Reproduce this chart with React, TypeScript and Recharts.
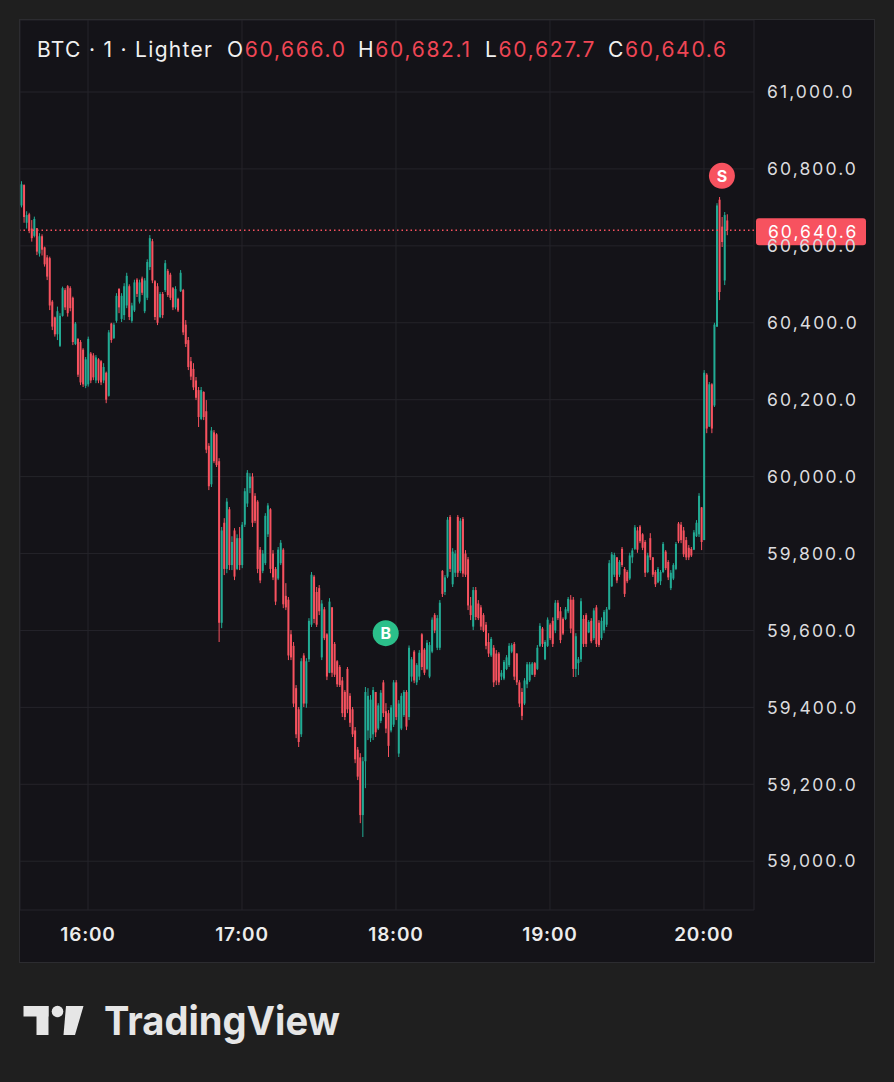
import React from 'react';
import {
  ComposedChart,
  Bar,
  XAxis,
  YAxis,
  CartesianGrid,
  ReferenceLine,
  ReferenceDot,
} from 'recharts';

// ---- data ----
const startTime = '15:34';
const slotCount = 286; // visible one-minute slots (15:34 .. 20:19)

const opens = [
  60705, 60758, 60660, 60682, 60645, 60626, 60646, 60580, 60625, 60596,
  60570, 60568, 60455, 60414, 60370, 60340, 60418, 60485, 60495, 60490,
  60465, 60345, 60358, 60350, 60330, 60236, 60240, 60320, 60315, 60250,
  60305, 60300, 60250, 60270, 60210, 60398, 60360, 60405, 60488, 60410,
  60420, 60445, 60495, 60405, 60432, 60512, 60455, 60515, 60430, 60465,
  60545, 60612, 60508, 60495, 60415, 60475, 60485, 60535, 60525, 60490,
  60440, 60462, 60482, 60485, 60395, 60355, 60300, 60280, 60250, 60225,
  60150, 60220, 60170, 60080, 59980, 60115, 60110, 60040, 59620, 59880,
  59760, 59915, 59770, 59860, 59760, 59840, 59770, 59875, 59930, 59970,
  60000, 59950, 59935, 59810, 59755, 59775, 59850, 59915, 59800, 59760,
  59735, 59775, 59810, 59690, 59680, 59590, 59560, 59450, 59395, 59330,
  59535, 59410, 59525, 59615, 59740, 59700, 59710, 59530, 59655, 59590,
  59490, 59660, 59565, 59520, 59505, 59470, 59440, 59500, 59430, 59395,
  59340, 59290, 59270, 59120, 59260, 59340, 59320, 59330, 59440, 59345,
  59365, 59465, 59390, 59385, 59340, 59355, 59465, 59280, 59345, 59380,
  59440, 59375, 59480, 59545, 59465, 59480, 59590, 59550, 59500, 59480,
  59545, 59640, 59555, 59555, 59755, 59700, 59740, 59895, 59720, 59750,
  59895, 59755, 59890, 59800, 59785, 59665, 59610, 59705, 59670, 59660,
  59640, 59615, 59570, 59535, 59555, 59540, 59540, 59480, 59475, 59500,
  59510, 59545, 59565, 59540, 59465, 59440, 59410, 59460, 59470, 59485,
  59515, 59500, 59560, 59605, 59525, 59560, 59615, 59625, 59600, 59672,
  59650, 59630, 59630, 59650, 59680, 59680, 59500, 59515, 59525, 59630,
  59640, 59595, 59625, 59580, 59660, 59620, 59580, 59600, 59615, 59655,
  59715, 59745, 59790, 59745, 59812, 59760, 59752, 59735, 59790, 59812,
  59860, 59870, 59850, 59830, 59752, 59840, 59790, 59752, 59725, 59728,
  59752, 59805, 59778, 59710, 59735, 59760, 59878, 59875, 59860, 59835,
  59815, 59812, 59810, 59845, 59850, 59920, 59835, 60265, 60130, 60240,
  60185, 60390, 60720, 60650, 60510, 60666.0,
];

const highs = [
  60768, 60760, 60690, 60686, 60667, 60676, 60646, 60633, 60630, 60598,
  60576, 60572, 60459, 60416, 60442, 60425, 60494, 60490, 60498, 60495,
  60468, 60402, 60360, 60355, 60334, 60311, 60364, 60324, 60321, 60316,
  60308, 60303, 60295, 60273, 60381, 60400, 60400, 60477, 60490, 60477,
  60503, 60530, 60500, 60452, 60512, 60516, 60512, 60520, 60516, 60565,
  60628, 60618, 60511, 60503, 60480, 60480, 60563, 60540, 60530, 60493,
  60495, 60465, 60537, 60488, 60407, 60363, 60311, 60295, 60259, 60233,
  60233, 60222, 60199, 60087, 60129, 60121, 60113, 60048, 59869, 59892,
  59944, 59921, 59845, 59866, 59850, 59869, 59882, 59970, 60017, 60009,
  60009, 59957, 59939, 59817, 59809, 59905, 59931, 59918, 59809, 59765,
  59817, 59835, 59814, 59723, 59687, 59601, 59570, 59458, 59401, 59528,
  59541, 59528, 59632, 59752, 59744, 59713, 59718, 59679, 59661, 59593,
  59684, 59661, 59570, 59523, 59510, 59479, 59445, 59505, 59437, 59401,
  59349, 59297, 59281, 59271, 59453, 59450, 59432, 59453, 59440, 59411,
  59445, 59471, 59411, 59393, 59406, 59471, 59471, 59419, 59437, 59445,
  59445, 59561, 59531, 59549, 59515, 59549, 59593, 59554, 59575, 59570,
  59634, 59645, 59640, 59679, 59757, 59744, 59895, 59900, 59814, 59809,
  59900, 59892, 59895, 59809, 59791, 59687, 59713, 59713, 59679, 59666,
  59645, 59622, 59593, 59583, 59562, 59549, 59544, 59497, 59523, 59536,
  59567, 59567, 59570, 59541, 59471, 59450, 59476, 59518, 59518, 59518,
  59518, 59562, 59619, 59609, 59575, 59634, 59619, 59634, 59679, 59679,
  59661, 59634, 59661, 59687, 59692, 59687, 59593, 59531, 59684, 59640,
  59645, 59627, 59632, 59658, 59666, 59627, 59634, 59653, 59661, 59783,
  59804, 59802, 59791, 59783, 59817, 59765, 59757, 59802, 59814, 59874,
  59869, 59874, 59853, 59835, 59802, 59853, 59791, 59757, 59765, 59757,
  59830, 59809, 59783, 59757, 59775, 59830, 59882, 59882, 59869, 59843,
  59822, 59817, 59861, 59887, 59957, 59921, 60277, 60269, 60246, 60243,
  60400, 60711, 60727, 60675, 60688, 60682.1,
];

const lows = [
  60700, 60660, 60645, 60633, 60611, 60622, 60576, 60572, 60575, 60546,
  60511, 60433, 60381, 60364, 60355, 60337, 60416, 60433, 60416, 60430,
  60342, 60342, 60259, 60238, 60233, 60230, 60234, 60243, 60251, 60243,
  60243, 60238, 60243, 60191, 60208, 60348, 60358, 60400, 60425, 60402,
  60407, 60438, 60407, 60400, 60428, 60467, 60450, 60472, 60425, 60459,
  60537, 60503, 60407, 60394, 60412, 60412, 60480, 60467, 60459, 60433,
  60435, 60428, 60480, 60368, 60337, 60277, 60251, 60225, 60199, 60129,
  60147, 60147, 60061, 59965, 59973, 60035, 60025, 59570, 59606, 59744,
  59749, 59757, 59757, 59731, 59757, 59757, 59762, 59869, 59921, 59957,
  59869, 59879, 59749, 59723, 59749, 59770, 59843, 59749, 59731, 59666,
  59731, 59770, 59658, 59653, 59523, 59523, 59401, 59320, 59297, 59323,
  59401, 59399, 59518, 59609, 59619, 59609, 59640, 59523, 59575, 59471,
  59489, 59479, 59479, 59453, 59453, 59375, 59367, 59385, 59349, 59323,
  59255, 59211, 59099, 59063, 59190, 59315, 59310, 59315, 59323, 59341,
  59359, 59375, 59333, 59271, 59335, 59349, 59367, 59271, 59341, 59375,
  59341, 59367, 59467, 59463, 59458, 59471, 59497, 59484, 59497, 59476,
  59541, 59593, 59549, 59549, 59687, 59692, 59736, 59752, 59713, 59739,
  59739, 59749, 59739, 59739, 59653, 59627, 59601, 59627, 59627, 59601,
  59596, 59551, 59531, 59531, 59453, 59458, 59458, 59471, 59471, 59497,
  59505, 59541, 59471, 59458, 59401, 59367, 59406, 59450, 59466, 59484,
  59479, 59497, 59557, 59557, 59523, 59557, 59575, 59557, 59593, 59627,
  59567, 59588, 59627, 59645, 59593, 59479, 59479, 59484, 59518, 59557,
  59557, 59593, 59567, 59575, 59557, 59557, 59575, 59593, 59609, 59653,
  59713, 59739, 59723, 59739, 59765, 59687, 59723, 59731, 59775, 59809,
  59802, 59827, 59809, 59739, 59749, 59783, 59739, 59713, 59723, 59718,
  59749, 59757, 59731, 59705, 59731, 59757, 59827, 59827, 59791, 59783,
  59783, 59791, 59809, 59843, 59843, 59809, 59835, 60113, 60129, 60113,
  60181, 60389, 60459, 60597, 60498, 60627.7,
];

const closes = [
  60760, 60675, 60680, 60640, 60620, 60670, 60585, 60625, 60590, 60552,
  60520, 60445, 60390, 60370, 60430, 60418, 60490, 60440, 60425, 60438,
  60350, 60398, 60265, 60245, 60240, 60305, 60358, 60250, 60258, 60310,
  60250, 60245, 60285, 60200, 60375, 60355, 60395, 60470, 60440, 60470,
  60495, 60522, 60415, 60445, 60505, 60475, 60505, 60478, 60510, 60558,
  60620, 60510, 60415, 60400, 60475, 60420, 60555, 60472, 60465, 60440,
  60488, 60432, 60530, 60375, 60345, 60285, 60260, 60232, 60205, 60155,
  60225, 60155, 60070, 59975, 60120, 60040, 60030, 59620, 59860, 59760,
  59935, 59770, 59830, 59740, 59840, 59770, 59875, 59962, 60010, 60000,
  59880, 59885, 59760, 59730, 59800, 59898, 59925, 59760, 59738, 59675,
  59810, 59828, 59668, 59660, 59535, 59530, 59410, 59330, 59310, 59520,
  59410, 59520, 59625, 59745, 59630, 59615, 59650, 59670, 59580, 59480,
  59675, 59490, 59485, 59460, 59458, 59385, 59375, 59395, 59360, 59330,
  59265, 59220, 59120, 59260, 59440, 59430, 59420, 59445, 59335, 59405,
  59438, 59385, 59345, 59300, 59400, 59465, 59375, 59410, 59430, 59440,
  59350, 59555, 59525, 59470, 59510, 59542, 59505, 59490, 59568, 59562,
  59628, 59600, 59632, 59672, 59695, 59738, 59888, 59760, 59805, 59800,
  59750, 59885, 59748, 59745, 59665, 59640, 59705, 59635, 59632, 59610,
  59600, 59560, 59540, 59578, 59465, 59470, 59465, 59490, 59518, 59530,
  59560, 59562, 59480, 59465, 59410, 59378, 59470, 59512, 59512, 59514,
  59485, 59555, 59612, 59565, 59570, 59628, 59580, 59565, 59672, 59632,
  59575, 59592, 59655, 59682, 59605, 59500, 59585, 59525, 59676, 59565,
  59565, 59622, 59572, 59652, 59565, 59562, 59625, 59648, 59655, 59775,
  59798, 59796, 59730, 59778, 59770, 59695, 59728, 59795, 59808, 59868,
  59810, 59832, 59815, 59750, 59795, 59790, 59745, 59720, 59760, 59752,
  59825, 59762, 59738, 59750, 59770, 59825, 59832, 59835, 59798, 59790,
  59790, 59795, 59855, 59880, 59950, 59830, 60270, 60125, 60240, 60125,
  60395, 60705, 60480, 60610, 60680, 60640.6,
];

const timeTicks = ['16:00', '17:00', '18:00', '19:00', '20:00'];
const priceTicks = [59000, 59200, 59400, 59600, 59800, 60000, 60200, 60400, 60600, 60800, 61000];
const priceDomain = [58873.2, 61187.2];

const markerTimes = ['17:56', '20:07'];
const markerPrices = [59593, 60782];
const markerLabels = ['B', 'S'];

const symbolTitle = 'BTC · 1 · Lighter';
const lastPrice = 60640.6;

// ---- styles ----
const UP = '#22ab94';
const DOWN = '#f7525f';
const MARK_UP = '#2bbf8a';
const PAGE_BG = '#1f1f1f';
const PANEL_BG = '#141318';
const GRID = '#25242a';
const AXIS_TEXT = '#dcdcdf';
const FONT = 'Inter, "Noto Sans", sans-serif';

const fmtPrice = (v: number) =>
  v.toLocaleString('en-US', { minimumFractionDigits: 1, maximumFractionDigits: 1 });

const toLabel = (m: number) =>
  `${String(Math.floor(m / 60)).padStart(2, '0')}:${String(m % 60).padStart(2, '0')}`;

const startMinute = (() => {
  const [h, m] = startTime.split(':').map(Number);
  return h * 60 + m;
})();

const data = Array.from({ length: slotCount }, (_, i) => {
  const t = toLabel(startMinute + i);
  if (i < opens.length) {
    return { t, range: [lows[i], highs[i]], o: opens[i], h: highs[i], l: lows[i], c: closes[i] };
  }
  return { t, range: null };
});

const Candle = (props: any) => {
  const { x, y, width, height, payload } = props;
  if (!payload || payload.o == null || x == null) return null;
  const { o, h, l, c } = payload;
  const top = Math.min(y, y + height);
  const hgt = Math.abs(height);
  const ppu = h - l > 0 ? hgt / (h - l) : 0;
  const yOf = (v: number) => top + (h - v) * ppu;
  const cx = x + width / 2;
  const color = c >= o ? UP : DOWN;
  const bTop = yOf(Math.max(o, c));
  const bBot = yOf(Math.min(o, c));
  return (
    <g>
      <rect x={cx - 0.5} y={top} width={1} height={Math.max(hgt, 1)} fill={color} />
      <rect x={cx - 1} y={bTop} width={2} height={Math.max(bBot - bTop, 1)} fill={color} />
    </g>
  );
};

const PriceTag = (props: any) => {
  const vb = props.viewBox || {};
  const left = (vb.x || 0) + (vb.width || 0) + 2;
  const cy = vb.y || 0;
  return (
    <g>
      <rect x={left} y={cy - 12} width={110} height={27} rx={3} fill={DOWN} />
      <text
        x={left + 12}
        y={cy + 1.5}
        dy="0.36em"
        fill="#ffffff"
        fontSize={17.5}
        fontFamily={FONT}
        letterSpacing={2}
      >
        {fmtPrice(lastPrice)}
      </text>
    </g>
  );
};

const makeMarker = (label: string, color: string) => (p: any) => {
  const { cx, cy } = p;
  if (cx == null) return null;
  return (
    <g>
      <circle cx={cx} cy={cy} r={13} fill={color} />
      <text
        x={cx}
        y={cy}
        dy="0.36em"
        textAnchor="middle"
        fill="#ffffff"
        fontSize={16}
        fontWeight={700}
        fontFamily={FONT}
      >
        {label}
      </text>
    </g>
  );
};

const headerGroups = [
  { k: 'O', v: opens[opens.length - 1], left: 227 },
  { k: 'H', v: highs[highs.length - 1], left: 358 },
  { k: 'L', v: lows[lows.length - 1], left: 485 },
  { k: 'C', v: closes[closes.length - 1], left: 608 },
];

export default function App() {
  return (
    <div
      style={{
        position: 'absolute',
        left: 0,
        top: 0,
        width: 894,
        height: 1082,
        background: PAGE_BG,
        fontFamily: FONT,
        overflow: 'hidden',
      }}
    >
      <div
        style={{
          position: 'absolute',
          left: 20,
          top: 20,
          width: 854,
          height: 942,
          background: PANEL_BG,
          boxShadow: '0 0 0 1px #2c2c30',
        }}
      >
        <ComposedChart
          width={854}
          height={942}
          data={data}
          margin={{ top: 0, right: 0, bottom: 0, left: 0 }}
          barCategoryGap={0}
        >
          <CartesianGrid stroke={GRID} strokeWidth={1} />
          <XAxis
            dataKey="t"
            type="category"
            ticks={timeTicks}
            interval={0}
            height={52}
            axisLine={false}
            tickLine={false}
            tickSize={0}
            tickMargin={18}
            tick={{ fill: '#ececec', fontSize: 19, fontWeight: 600, fontFamily: FONT, letterSpacing: 0.8 }}
          />
          <YAxis
            orientation="right"
            type="number"
            domain={priceDomain}
            allowDataOverflow
            ticks={priceTicks}
            interval={0}
            width={120}
            axisLine={false}
            tickLine={false}
            tickSize={0}
            tickMargin={13}
            tickFormatter={fmtPrice}
            tick={{ fill: AXIS_TEXT, fontSize: 17.5, fontFamily: FONT, letterSpacing: 2.1 }}
          />
          <Bar dataKey="range" isAnimationActive={false} shape={Candle} />
          <ReferenceLine
            y={lastPrice}
            stroke={DOWN}
            strokeDasharray="1.5 3"
            strokeWidth={1.5}
            label={<PriceTag />}
            zIndex={1000}
          />
          <ReferenceDot
            x={markerTimes[0]}
            y={markerPrices[0]}
            r={13}
            shape={makeMarker(markerLabels[0], MARK_UP)}
          />
          <ReferenceDot
            x={markerTimes[1]}
            y={markerPrices[1]}
            r={13}
            shape={makeMarker(markerLabels[1], DOWN)}
          />
        </ComposedChart>
        <div
          style={{
            position: 'absolute',
            left: 17,
            top: 18,
            height: 24,
            lineHeight: '24px',
            fontSize: 21,
            letterSpacing: 1.3,
            color: '#f0f0f0',
            whiteSpace: 'nowrap',
          }}
        >
          {symbolTitle}
        </div>
        {headerGroups.map((g) => (
          <div
            key={g.k}
            style={{
              position: 'absolute',
              left: g.left - 20,
              top: 18,
              height: 24,
              lineHeight: '24px',
              fontSize: 21,
              letterSpacing: 1.7,
              whiteSpace: 'nowrap',
            }}
          >
            <span style={{ color: '#f0f0f0' }}>{g.k}</span>
            <span style={{ color: '#ef4655' }}>{fmtPrice(g.v)}</span>
          </div>
        ))}
      </div>
      <svg
        width={360}
        height={60}
        style={{ position: 'absolute', left: 0, top: 995 }}
      >
        <g fill="#e6e6e6">
          <rect x={23.5} y={11} width={25} height={10.5} />
          <rect x={36.5} y={11} width={12} height={29} />
          <circle cx={57.5} cy={16.5} r={5.8} />
          <polygon points="66,11 83.5,11 75,40 63.5,40" />
          <text
            x={104}
            y={40}
            fontSize={40}
            fontWeight={700}
            fontFamily={FONT}
            textLength={236}
            lengthAdjust="spacingAndGlyphs"
          >
            TradingView
          </text>
        </g>
      </svg>
    </div>
  );
}
